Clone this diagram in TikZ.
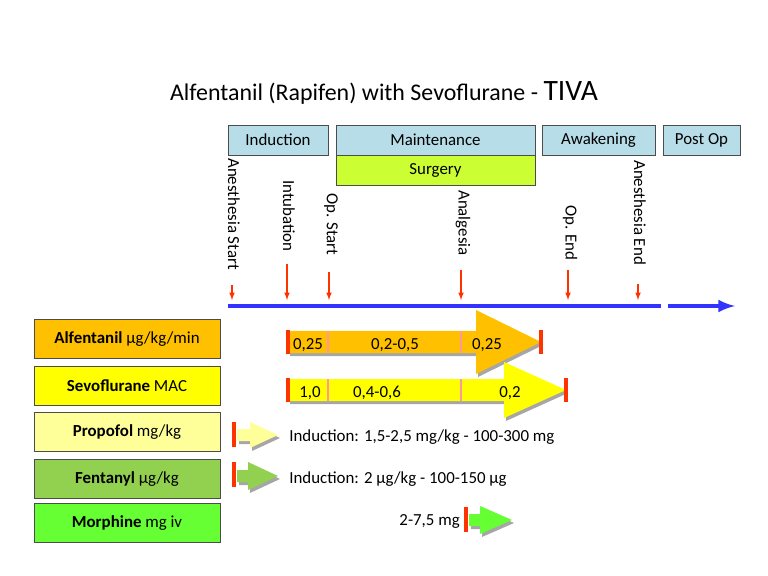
\documentclass[tikz,border=0pt]{standalone}
\usepackage{fontspec}
\setmainfont{Carlito}
\usetikzlibrary{positioning}
\definecolor{phase}{HTML}{B7DEE8}
\definecolor{surg}{HTML}{CCFF33}
\definecolor{alf}{HTML}{FFC000}
\definecolor{sevo}{HTML}{FFFF00}
\definecolor{prop}{HTML}{FFFF99}
\definecolor{fent}{HTML}{92D050}
\definecolor{morph}{HTML}{66FF33}
\definecolor{tick}{HTML}{FF3300}
\definecolor{axis}{HTML}{3333FF}
% fat arrow: x0, x1 (shaft end), x2 (tip), ymid, half shaft, half head, colour
\newcommand{\fatarrow}[7]{%
  \fill[gray!70] ({#1+2},{#4-#5+3}) -- ({#2+2},{#4-#5+3}) -- ({#2+2},{#4-#6+3}) -- ({#3+2},{#4+3}) -- ({#2+2},{#4+#6+3}) -- ({#2+2},{#4+#5+3}) -- ({#1+2},{#4+#5+3}) -- cycle;
  \fill[#7] (#1,{#4-#5}) -- (#2,{#4-#5}) -- (#2,{#4-#6}) -- (#3,#4) -- (#2,{#4+#6}) -- (#2,{#4+#5}) -- (#1,{#4+#5}) -- cycle;}
\begin{document}
\begin{tikzpicture}[x=0.025cm,y=-0.025cm,
    phasebox/.style={draw=black!70,minimum height=0.75cm,inner sep=0pt,font=\large},
    drugbox/.style={draw=black!70,minimum width=4.65cm,minimum height=0.98cm,inner sep=0pt,font=\large},
    event/.style={rotate=-90,anchor=west,font=\large,inner sep=0pt},
    evarrow/.style={-latex,tick,thick},
    bar/.style={tick,line width=2.5pt},
    seg/.style={red!40,line width=2pt},
    dose/.style={font=\large,inner sep=0pt}]
\useasboundingbox (0,0) rectangle (768,576);
\node (title) at (384,93) {\fontsize{17}{20}\selectfont Alfentanil (Rapifen) with Sevoflurane - \fontsize{21}{24}\selectfont TIVA};
% phases
\node[phasebox,fill=phase,minimum width=2.5cm] (ind) at (278,140) {Induction};
\node[phasebox,fill=phase,minimum width=4.97cm] (maint) at (435.5,140) {Maintenance};
\node[phasebox,fill=phase,minimum width=2.82cm] (awake) at (598.5,140) {Awakening};
\node[phasebox,fill=phase,minimum width=1.92cm] (post) at (701.5,140) {Post Op};
\node[phasebox,fill=surg,minimum width=4.97cm] (surgery) at (435.5,170.5) {Surgery};
% events
\node[event] (astart) at (234,158) {Anesthesia Start};
\node[event] (intub) at (289,180) {Intubation};
\node[event] (opstart) at (331,193) {Op. Start};
\node[event] (analg) at (463,190) {Analgesia};
\node[event] (opend) at (570,205) {Op. End};
\node[event] (aend) at (640,160) {Anesthesia End};
\draw[evarrow] (232,285) -- (232,300);
\draw[evarrow] (287,264) -- (287,300);
\draw[evarrow] (329,272) -- (329,300);
\draw[evarrow] (461,270) -- (461,300);
\draw[evarrow] (568,270) -- (568,300);
\draw[evarrow] (638,284) -- (638,300);
% time axis
\draw[axis,line width=3pt] (228,306) -- (661,306);
\draw[axis,line width=3pt,-latex] (668,306) -- (735,306);
% drugs
\node[drugbox,fill=alf] (alfbox) at (127,339) {\textbf{Alfentanil} µg/kg/min};
\node[drugbox,fill=sevo] (sevobox) at (127,386) {\textbf{Sevoflurane} MAC};
\node[drugbox,fill=prop] (propbox) at (127,432) {\textbf{Propofol} mg/kg};
\node[drugbox,fill=fent] (fentbox) at (127,479) {\textbf{Fentanyl} µg/kg};
\node[drugbox,fill=morph] (morphbox) at (127,523) {\textbf{Morphine} mg iv};
% alfentanil
\fatarrow{288}{476}{541}{342}{11}{32}{alf}
\draw[seg] (328,331) -- (328,353);
\draw[seg] (461,331) -- (461,353);
\draw[bar] (288,330) -- (288,354);
\draw[bar] (541,330) -- (541,354);
\node[dose] (a1) at (308,345) {0,25};
\node[dose] (a2) at (395,345) {0,2-0,5};
\node[dose] (a3) at (487,345) {0,25};
% sevoflurane
\fatarrow{288}{504}{566}{390}{11}{28}{sevo}
\draw[seg] (328,379) -- (328,401);
\draw[seg] (461,379) -- (461,401);
\draw[bar] (288,378) -- (288,402);
\draw[bar] (566,378) -- (566,402);
\node[dose] (s1) at (310,393) {1,0};
\node[dose] (s2) at (377,393) {0,4-0,6};
\node[dose] (s3) at (510,393) {0,2};
% propofol
\fatarrow{237}{250}{278}{435}{6}{13}{prop}
\draw[bar] (234,422) -- (234,447);
\node[dose,anchor=west] (ptext) at (289,437) {Induction: 1,5-2,5 mg/kg - 100-300 mg};
% fentanyl
\fatarrow{237}{248}{278}{476}{6}{14}{fent}
\draw[bar] (234,462) -- (234,487);
\node[dose,anchor=west] (ftext) at (289,479) {Induction: 2 µg/kg - 100-150 µg};
% morphine
\fatarrow{469}{480}{512}{520}{6}{14}{morph}
\draw[bar] (466,507) -- (466,532);
\node[dose,anchor=east] (mtext) at (460,521) {2-7,5 mg};
\end{tikzpicture}
\end{document}
